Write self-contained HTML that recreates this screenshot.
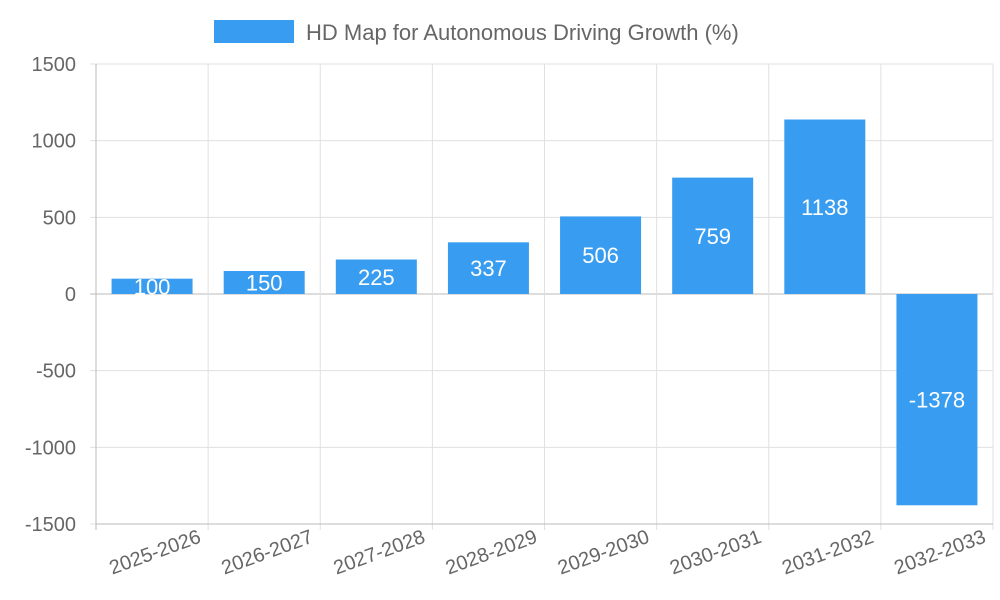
<!DOCTYPE html>
<html><head><meta charset="utf-8"><style>
body{margin:0;background:#fff;}
svg{display:block;font-family:"Liberation Sans",sans-serif;}
</style></head><body>
<svg id="c" width="1000" height="600"></svg>
<script>
const categories=["2025-2026","2026-2027","2027-2028","2028-2029","2029-2030","2030-2031","2031-2032","2032-2033"];
const values=[100,150,225,337,506,759,1138,-1378];
const yTicks=[1500,1000,500,0,-500,-1000,-1500];
const NS="http://www.w3.org/2000/svg";
const svg=document.getElementById('c');
const L=96,R=993,T=64,B=524,yMin=-1500,yMax=1500;
const y=v=>T+(yMax-v)/(yMax-yMin)*(B-T);
const bw=(R-L)/categories.length;
const x=i=>L+i*bw;
function mk(t,a,p){const e=document.createElementNS(NS,t);for(const k in a)e.setAttribute(k,a[k]);(p||svg).appendChild(e);return e;}
// gridlines
yTicks.forEach(v=>{
 const g=mk('line',{x1:L-6,x2:R,y1:y(v),y2:y(v),stroke:v===0?'#bbb':'#e0e0e0','stroke-width':1});
 
 
 const t=mk('text',{x:76,y:y(v)+7,'text-anchor':'end','font-size':20,fill:'#666'});
 t.textContent=v;
 
 
});
for(let i=0;i<=categories.length;i++){
 const g=mk('line',{x1:x(i),x2:x(i),y1:T,y2:B+6,stroke:i===0?'#bbb':'#e0e0e0','stroke-width':1});
 
 
}
mk('line',{x1:L,x2:R,y1:B,y2:B,stroke:'#bbb'});
categories.forEach((c,i)=>{
 const v=values[i];
 const cx=x(i)+bw/2,w=81;
 const top=Math.min(y(v),y(0)),h=Math.abs(y(v)-y(0));
 const r=mk('rect',{x:cx-w/2,y:top,width:w,height:h,fill:'#389cf0'});
 
 
 const t=mk('text',{x:cx,y:top+h/2+8,'text-anchor':'middle','font-size':22,fill:'#fff'});
 t.textContent=v;
 
 
 const xl=mk('text',{x:0,y:0,'text-anchor':'end','font-size':20,fill:'#666',transform:`translate(${x(i+1)-6},${B+18}) rotate(-20)`});
 xl.textContent=c;
 
 
});
</script>
<script>
(function(){
const NS="http://www.w3.org/2000/svg",svg=document.getElementById('c');
const g=document.createElementNS(NS,'g');svg.appendChild(g);


const r=document.createElementNS(NS,'rect');
r.setAttribute('x',214);r.setAttribute('y',20);r.setAttribute('width',80);r.setAttribute('height',23);r.setAttribute('fill','#389cf0');


g.appendChild(r);
const t=document.createElementNS(NS,'text');
t.setAttribute('x',306);t.setAttribute('y',40);t.setAttribute('font-size',22);t.setAttribute('fill','#666');
t.textContent='HD Map for Autonomous Driving Growth (%)';


g.appendChild(t);
})();
</script>
</body></html>
